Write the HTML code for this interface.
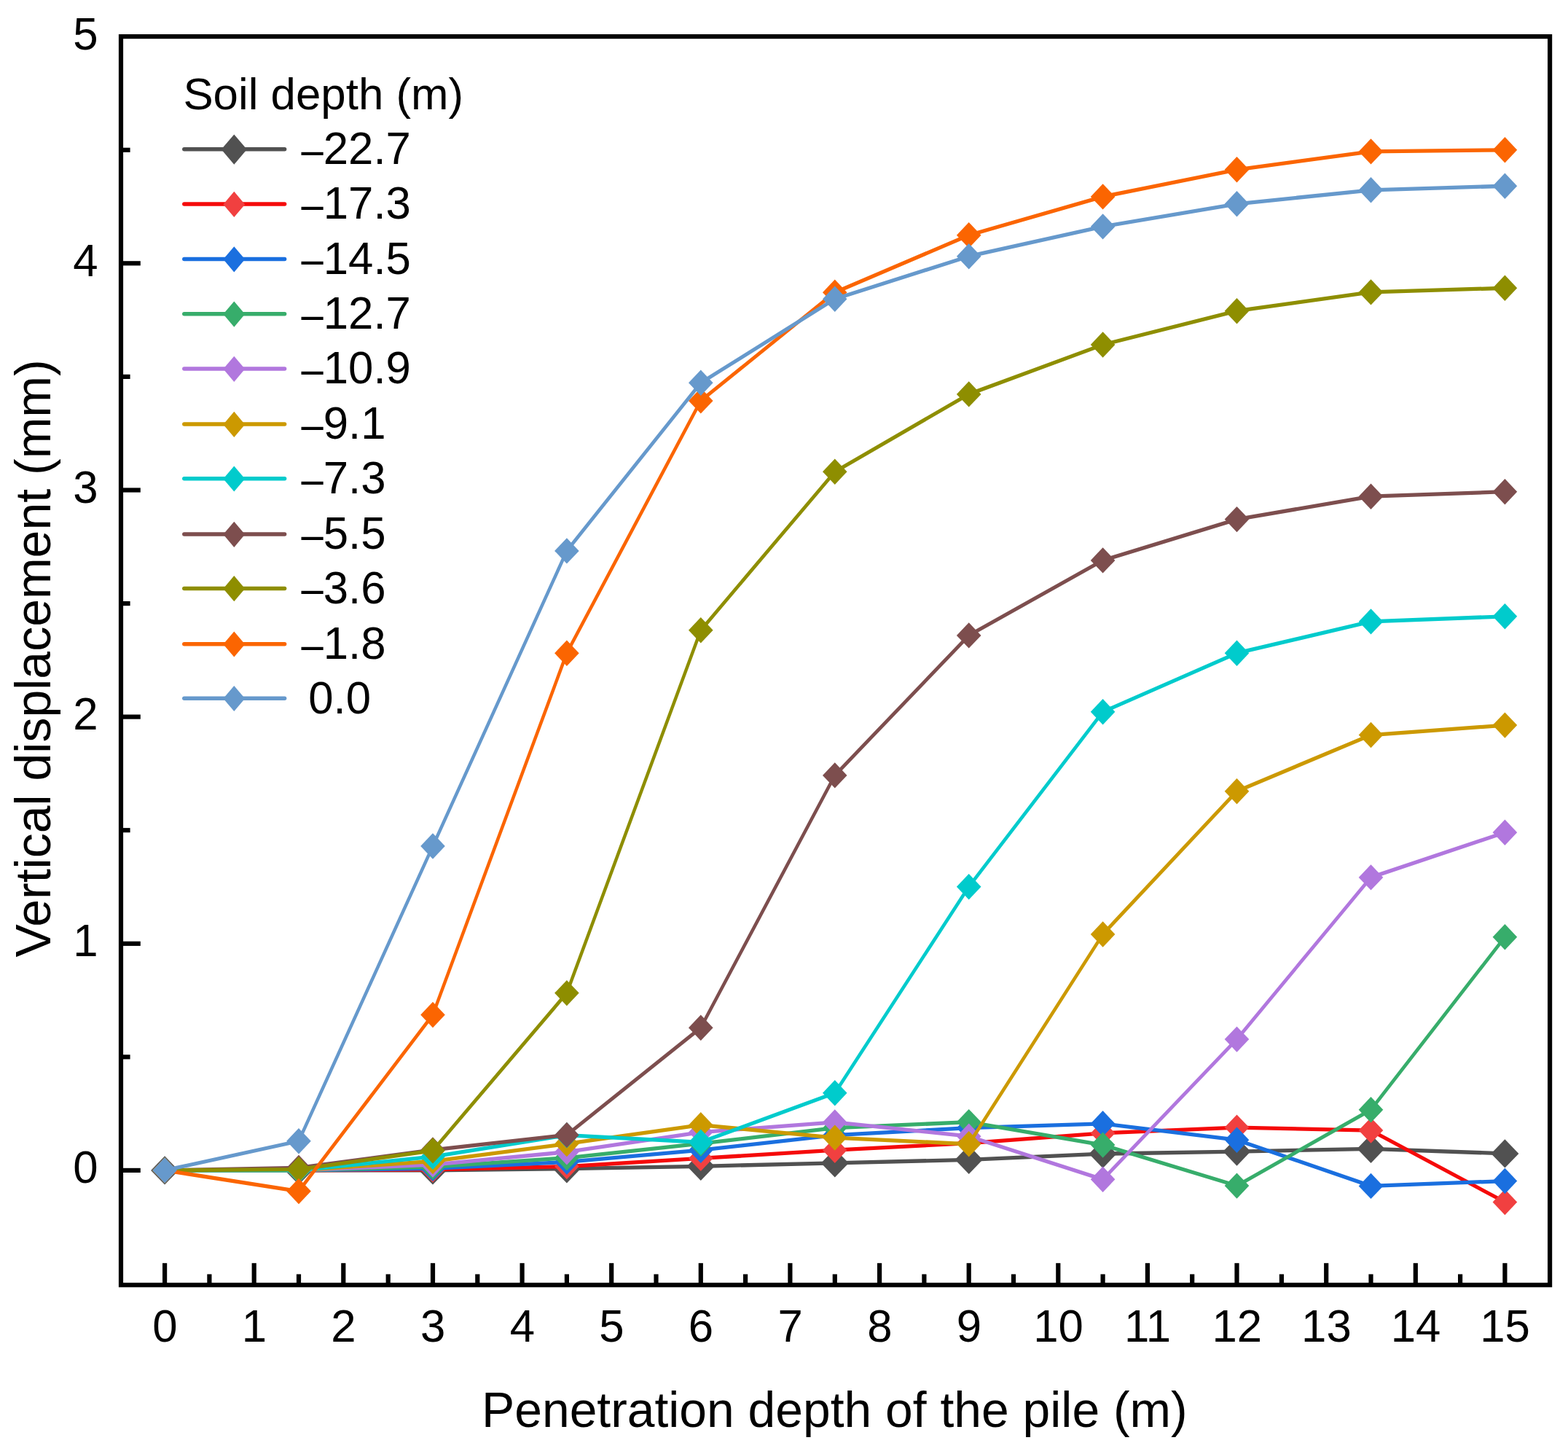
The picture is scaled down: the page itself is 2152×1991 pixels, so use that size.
<!DOCTYPE html>
<html lang="en"><head><meta charset="utf-8">
<title>Vertical displacement vs penetration depth of the pile</title>
<style>
html,body{margin:0;padding:0;background:#fff;}
body{width:2152px;height:1991px;overflow:hidden;}
svg{display:block;}
text{font-family:"Liberation Sans",Arial,Helvetica,sans-serif;fill:#000;}
.tk{font-size:61.7px;}
.lg{font-size:61.7px;}
.lt{font-size:61.8px;}
.tx{font-size:67.8px;}
.ty{font-size:68px;}
</style></head><body>
<svg width="2152" height="1991" viewBox="0 0 2152 1991" role="img" aria-label="Vertical displacement versus penetration depth of the pile for different soil depths">
<rect x="0" y="0" width="2152" height="1991" fill="#ffffff"/>
<g fill="none" stroke-linejoin="round" stroke-linecap="butt">
<g><polyline transform="scale(1,1.2)" points="226.1,1338.25 410.0,1338.25 594.0,1338.25 777.9,1336.44 961.8,1333.58 1145.8,1329.95 1329.7,1326.06 1513.6,1319.32 1697.5,1316.73 1881.5,1313.62 2065.4,1319.06" stroke="#515151" stroke-width="4.4"/>
<polygon points="226.1,1586.2 245.1,1605.9 226.1,1625.6 207.1,1605.9" fill="#515151"/>
<polygon points="410.0,1586.2 429.0,1605.9 410.0,1625.6 391.0,1605.9" fill="#515151"/>
<polygon points="594.0,1586.2 613.0,1605.9 594.0,1625.6 575.0,1605.9" fill="#515151"/>
<polygon points="777.9,1584.0 796.9,1603.7 777.9,1623.4 758.9,1603.7" fill="#515151"/>
<polygon points="961.8,1580.6 980.8,1600.3 961.8,1620.0 942.8,1600.3" fill="#515151"/>
<polygon points="1145.8,1576.2 1164.8,1595.9 1145.8,1615.6 1126.8,1595.9" fill="#515151"/>
<polygon points="1329.7,1571.6 1348.7,1591.3 1329.7,1611.0 1310.7,1591.3" fill="#515151"/>
<polygon points="1513.6,1563.5 1532.6,1583.2 1513.6,1602.9 1494.6,1583.2" fill="#515151"/>
<polygon points="1697.5,1560.4 1716.5,1580.1 1697.5,1599.8 1678.5,1580.1" fill="#515151"/>
<polygon points="1881.5,1556.6 1900.5,1576.3 1881.5,1596.0 1862.5,1576.3" fill="#515151"/>
<polygon points="2065.4,1563.2 2084.4,1582.9 2065.4,1602.6 2046.4,1582.9" fill="#515151"/>
</g>
<g><polyline transform="scale(1,1.2)" points="226.1,1338.25 410.0,1338.25 594.0,1337.47 777.9,1333.84 961.8,1324.51 1145.8,1315.17 1329.7,1307.14 1513.6,1295.73 1697.5,1289.25 1881.5,1292.62 2065.4,1374.55" stroke="#F50A0A" stroke-width="4.4"/>
<polygon points="226.1,1588.2 242.9,1605.9 226.1,1623.6 209.3,1605.9" fill="#F14040"/>
<polygon points="410.0,1588.2 426.8,1605.9 410.0,1623.6 393.2,1605.9" fill="#F14040"/>
<polygon points="594.0,1587.3 610.8,1605.0 594.0,1622.7 577.2,1605.0" fill="#F14040"/>
<polygon points="777.9,1582.9 794.7,1600.6 777.9,1618.3 761.1,1600.6" fill="#F14040"/>
<polygon points="961.8,1571.7 978.6,1589.4 961.8,1607.1 945.0,1589.4" fill="#F14040"/>
<polygon points="1145.8,1560.5 1162.5,1578.2 1145.8,1595.9 1129.0,1578.2" fill="#F14040"/>
<polygon points="1329.7,1550.9 1346.5,1568.6 1329.7,1586.3 1312.9,1568.6" fill="#F14040"/>
<polygon points="1513.6,1537.2 1530.4,1554.9 1513.6,1572.6 1496.8,1554.9" fill="#F14040"/>
<polygon points="1697.5,1529.4 1714.3,1547.1 1697.5,1564.8 1680.7,1547.1" fill="#F14040"/>
<polygon points="1881.5,1533.4 1898.3,1551.1 1881.5,1568.8 1864.7,1551.1" fill="#F14040"/>
<polygon points="2065.4,1631.8 2082.2,1649.5 2065.4,1667.2 2048.6,1649.5" fill="#F14040"/>
</g>
<g><polyline transform="scale(1,1.2)" points="226.1,1338.25 410.0,1338.25 594.0,1336.18 777.9,1328.66 961.8,1315.17 1145.8,1298.06 1329.7,1289.76 1513.6,1284.84 1697.5,1303.51 1881.5,1356.14 2065.4,1350.44" stroke="#1A6FDF" stroke-width="4.4"/>
<polygon points="226.1,1588.2 242.9,1605.9 226.1,1623.6 209.3,1605.9" fill="#1A6FDF"/>
<polygon points="410.0,1588.2 426.8,1605.9 410.0,1623.6 393.2,1605.9" fill="#1A6FDF"/>
<polygon points="594.0,1585.7 610.8,1603.4 594.0,1621.1 577.2,1603.4" fill="#1A6FDF"/>
<polygon points="777.9,1576.7 794.7,1594.4 777.9,1612.1 761.1,1594.4" fill="#1A6FDF"/>
<polygon points="961.8,1560.5 978.6,1578.2 961.8,1595.9 945.0,1578.2" fill="#1A6FDF"/>
<polygon points="1145.8,1540.0 1162.5,1557.7 1145.8,1575.4 1129.0,1557.7" fill="#1A6FDF"/>
<polygon points="1329.7,1530.0 1346.5,1547.7 1329.7,1565.4 1312.9,1547.7" fill="#1A6FDF"/>
<polygon points="1513.6,1524.1 1530.4,1541.8 1513.6,1559.5 1496.8,1541.8" fill="#1A6FDF"/>
<polygon points="1697.5,1546.5 1714.3,1564.2 1697.5,1581.9 1680.7,1564.2" fill="#1A6FDF"/>
<polygon points="1881.5,1609.7 1898.3,1627.4 1881.5,1645.1 1864.7,1627.4" fill="#1A6FDF"/>
<polygon points="2065.4,1602.8 2082.2,1620.5 2065.4,1638.2 2048.6,1620.5" fill="#1A6FDF"/>
</g>
<g><polyline transform="scale(1,1.2)" points="226.1,1338.25 410.0,1338.25 594.0,1334.36 777.9,1323.99 961.8,1307.65 1145.8,1289.76 1329.7,1283.02 1513.6,1309.21 1697.5,1355.88 1881.5,1269.02 2065.4,1071.45" stroke="#37AD6B" stroke-width="4.4"/>
<polygon points="226.1,1588.2 242.9,1605.9 226.1,1623.6 209.3,1605.9" fill="#37AD6B"/>
<polygon points="410.0,1588.2 426.8,1605.9 410.0,1623.6 393.2,1605.9" fill="#37AD6B"/>
<polygon points="594.0,1583.5 610.8,1601.2 594.0,1618.9 577.2,1601.2" fill="#37AD6B"/>
<polygon points="777.9,1571.1 794.7,1588.8 777.9,1606.5 761.1,1588.8" fill="#37AD6B"/>
<polygon points="961.8,1551.5 978.6,1569.2 961.8,1586.9 945.0,1569.2" fill="#37AD6B"/>
<polygon points="1145.8,1530.0 1162.5,1547.7 1145.8,1565.4 1129.0,1547.7" fill="#37AD6B"/>
<polygon points="1329.7,1521.9 1346.5,1539.6 1329.7,1557.3 1312.9,1539.6" fill="#37AD6B"/>
<polygon points="1513.6,1553.4 1530.4,1571.1 1513.6,1588.8 1496.8,1571.1" fill="#37AD6B"/>
<polygon points="1697.5,1609.4 1714.3,1627.1 1697.5,1644.8 1680.7,1627.1" fill="#37AD6B"/>
<polygon points="1881.5,1505.1 1898.3,1522.8 1881.5,1540.5 1864.7,1522.8" fill="#37AD6B"/>
<polygon points="2065.4,1268.0 2082.2,1285.7 2065.4,1303.4 2048.6,1285.7" fill="#37AD6B"/>
</g>
<g><polyline transform="scale(1,1.2)" points="226.1,1338.25 410.0,1338.25 594.0,1331.77 777.9,1317.25 961.8,1294.69 1145.8,1283.28 1329.7,1299.36 1513.6,1348.62 1697.5,1188.38 1881.5,1003.26 2065.4,951.92" stroke="#B177DE" stroke-width="4.4"/>
<polygon points="226.1,1588.2 242.9,1605.9 226.1,1623.6 209.3,1605.9" fill="#B177DE"/>
<polygon points="410.0,1588.2 426.8,1605.9 410.0,1623.6 393.2,1605.9" fill="#B177DE"/>
<polygon points="594.0,1580.4 610.8,1598.1 594.0,1615.8 577.2,1598.1" fill="#B177DE"/>
<polygon points="777.9,1563.0 794.7,1580.7 777.9,1598.4 761.1,1580.7" fill="#B177DE"/>
<polygon points="961.8,1535.9 978.6,1553.6 961.8,1571.3 945.0,1553.6" fill="#B177DE"/>
<polygon points="1145.8,1522.2 1162.5,1539.9 1145.8,1557.6 1129.0,1539.9" fill="#B177DE"/>
<polygon points="1329.7,1541.5 1346.5,1559.2 1329.7,1576.9 1312.9,1559.2" fill="#B177DE"/>
<polygon points="1513.6,1600.6 1530.4,1618.3 1513.6,1636.0 1496.8,1618.3" fill="#B177DE"/>
<polygon points="1697.5,1408.4 1714.3,1426.1 1697.5,1443.8 1680.7,1426.1" fill="#B177DE"/>
<polygon points="1881.5,1186.2 1898.3,1203.9 1881.5,1221.6 1864.7,1203.9" fill="#B177DE"/>
<polygon points="2065.4,1124.6 2082.2,1142.3 2065.4,1160.0 2048.6,1142.3" fill="#B177DE"/>
</g>
<g><polyline transform="scale(1,1.2)" points="226.1,1338.25 410.0,1338.25 594.0,1327.88 777.9,1307.91 961.8,1286.39 1145.8,1300.91 1329.7,1308.17 1513.6,1068.34 1697.5,904.73 1881.5,840.43 2065.4,829.28" stroke="#CC9900" stroke-width="4.4"/>
<polygon points="226.1,1588.2 242.9,1605.9 226.1,1623.6 209.3,1605.9" fill="#CC9900"/>
<polygon points="410.0,1588.2 426.8,1605.9 410.0,1623.6 393.2,1605.9" fill="#CC9900"/>
<polygon points="594.0,1575.8 610.8,1593.5 594.0,1611.2 577.2,1593.5" fill="#CC9900"/>
<polygon points="777.9,1551.8 794.7,1569.5 777.9,1587.2 761.1,1569.5" fill="#CC9900"/>
<polygon points="961.8,1526.0 978.6,1543.7 961.8,1561.4 945.0,1543.7" fill="#CC9900"/>
<polygon points="1145.8,1543.4 1162.5,1561.1 1145.8,1578.8 1129.0,1561.1" fill="#CC9900"/>
<polygon points="1329.7,1552.1 1346.5,1569.8 1329.7,1587.5 1312.9,1569.8" fill="#CC9900"/>
<polygon points="1513.6,1264.3 1530.4,1282.0 1513.6,1299.7 1496.8,1282.0" fill="#CC9900"/>
<polygon points="1697.5,1068.0 1714.3,1085.7 1697.5,1103.4 1680.7,1085.7" fill="#CC9900"/>
<polygon points="1881.5,990.8 1898.3,1008.5 1881.5,1026.2 1864.7,1008.5" fill="#CC9900"/>
<polygon points="2065.4,977.4 2082.2,995.1 2065.4,1012.8 2048.6,995.1" fill="#CC9900"/>
</g>
<g><polyline transform="scale(1,1.2)" points="226.1,1338.25 410.0,1338.25 594.0,1322.69 777.9,1298.06 961.8,1306.10 1145.8,1249.83 1329.7,1013.89 1513.6,813.98 1697.5,746.82 1881.5,710.78 2065.4,704.82" stroke="#00CBCC" stroke-width="4.4"/>
<polygon points="226.1,1588.2 242.9,1605.9 226.1,1623.6 209.3,1605.9" fill="#00CBCC"/>
<polygon points="410.0,1588.2 426.8,1605.9 410.0,1623.6 393.2,1605.9" fill="#00CBCC"/>
<polygon points="594.0,1569.5 610.8,1587.2 594.0,1604.9 577.2,1587.2" fill="#00CBCC"/>
<polygon points="777.9,1540.0 794.7,1557.7 777.9,1575.4 761.1,1557.7" fill="#00CBCC"/>
<polygon points="961.8,1549.6 978.6,1567.3 961.8,1585.0 945.0,1567.3" fill="#00CBCC"/>
<polygon points="1145.8,1482.1 1162.5,1499.8 1145.8,1517.5 1129.0,1499.8" fill="#00CBCC"/>
<polygon points="1329.7,1199.0 1346.5,1216.7 1329.7,1234.4 1312.9,1216.7" fill="#00CBCC"/>
<polygon points="1513.6,959.1 1530.4,976.8 1513.6,994.5 1496.8,976.8" fill="#00CBCC"/>
<polygon points="1697.5,878.5 1714.3,896.2 1697.5,913.9 1680.7,896.2" fill="#00CBCC"/>
<polygon points="1881.5,835.2 1898.3,852.9 1881.5,870.6 1864.7,852.9" fill="#00CBCC"/>
<polygon points="2065.4,828.1 2082.2,845.8 2065.4,863.5 2048.6,845.8" fill="#00CBCC"/>
</g>
<g><polyline transform="scale(1,1.2)" points="226.1,1338.25 410.0,1335.40 594.0,1314.91 777.9,1297.80 961.8,1175.16 1145.8,886.58 1329.7,726.60 1513.6,640.78 1697.5,593.85 1881.5,567.66 2065.4,562.21" stroke="#7D4E4E" stroke-width="4.4"/>
<polygon points="226.1,1588.2 242.9,1605.9 226.1,1623.6 209.3,1605.9" fill="#7D4E4E"/>
<polygon points="410.0,1584.8 426.8,1602.5 410.0,1620.2 393.2,1602.5" fill="#7D4E4E"/>
<polygon points="594.0,1560.2 610.8,1577.9 594.0,1595.6 577.2,1577.9" fill="#7D4E4E"/>
<polygon points="777.9,1539.7 794.7,1557.4 777.9,1575.1 761.1,1557.4" fill="#7D4E4E"/>
<polygon points="961.8,1392.5 978.6,1410.2 961.8,1427.9 945.0,1410.2" fill="#7D4E4E"/>
<polygon points="1145.8,1046.2 1162.5,1063.9 1145.8,1081.6 1129.0,1063.9" fill="#7D4E4E"/>
<polygon points="1329.7,854.2 1346.5,871.9 1329.7,889.6 1312.9,871.9" fill="#7D4E4E"/>
<polygon points="1513.6,751.2 1530.4,768.9 1513.6,786.6 1496.8,768.9" fill="#7D4E4E"/>
<polygon points="1697.5,694.9 1714.3,712.6 1697.5,730.3 1680.7,712.6" fill="#7D4E4E"/>
<polygon points="1881.5,663.5 1898.3,681.2 1881.5,698.9 1864.7,681.2" fill="#7D4E4E"/>
<polygon points="2065.4,657.0 2082.2,674.7 2065.4,692.4 2048.6,674.7" fill="#7D4E4E"/>
</g>
<g><polyline transform="scale(1,1.2)" points="226.1,1338.25 410.0,1337.21 594.0,1315.69 777.9,1135.49 961.8,720.64 1145.8,539.40 1329.7,450.72 1513.6,394.20 1697.5,355.57 1881.5,334.05 2065.4,329.38" stroke="#8E8E00" stroke-width="4.4"/>
<polygon points="226.1,1588.2 242.9,1605.9 226.1,1623.6 209.3,1605.9" fill="#8E8E00"/>
<polygon points="410.0,1587.0 426.8,1604.7 410.0,1622.4 393.2,1604.7" fill="#8E8E00"/>
<polygon points="594.0,1561.1 610.8,1578.8 594.0,1596.5 577.2,1578.8" fill="#8E8E00"/>
<polygon points="777.9,1344.9 794.7,1362.6 777.9,1380.3 761.1,1362.6" fill="#8E8E00"/>
<polygon points="961.8,847.1 978.6,864.8 961.8,882.5 945.0,864.8" fill="#8E8E00"/>
<polygon points="1145.8,629.6 1162.5,647.3 1145.8,665.0 1129.0,647.3" fill="#8E8E00"/>
<polygon points="1329.7,523.2 1346.5,540.9 1329.7,558.6 1312.9,540.9" fill="#8E8E00"/>
<polygon points="1513.6,455.3 1530.4,473.0 1513.6,490.7 1496.8,473.0" fill="#8E8E00"/>
<polygon points="1697.5,409.0 1714.3,426.7 1697.5,444.4 1680.7,426.7" fill="#8E8E00"/>
<polygon points="1881.5,383.2 1898.3,400.9 1881.5,418.6 1864.7,400.9" fill="#8E8E00"/>
<polygon points="2065.4,377.6 2082.2,395.3 2065.4,413.0 2048.6,395.3" fill="#8E8E00"/>
</g>
<g><polyline transform="scale(1,1.2)" points="226.1,1338.25 410.0,1362.10 594.0,1160.38 777.9,746.82 961.8,458.24 1145.8,334.30 1329.7,268.97 1513.6,224.89 1697.5,194.03 1881.5,173.29 2065.4,171.48" stroke="#FB6501" stroke-width="4.4"/>
<polygon points="226.1,1588.2 242.9,1605.9 226.1,1623.6 209.3,1605.9" fill="#FB6501"/>
<polygon points="410.0,1616.8 426.8,1634.5 410.0,1652.2 393.2,1634.5" fill="#FB6501"/>
<polygon points="594.0,1374.8 610.8,1392.5 594.0,1410.2 577.2,1392.5" fill="#FB6501"/>
<polygon points="777.9,878.5 794.7,896.2 777.9,913.9 761.1,896.2" fill="#FB6501"/>
<polygon points="961.8,532.2 978.6,549.9 961.8,567.6 945.0,549.9" fill="#FB6501"/>
<polygon points="1145.8,383.5 1162.5,401.2 1145.8,418.9 1129.0,401.2" fill="#FB6501"/>
<polygon points="1329.7,305.1 1346.5,322.8 1329.7,340.5 1312.9,322.8" fill="#FB6501"/>
<polygon points="1513.6,252.2 1530.4,269.9 1513.6,287.6 1496.8,269.9" fill="#FB6501"/>
<polygon points="1697.5,215.1 1714.3,232.8 1697.5,250.5 1680.7,232.8" fill="#FB6501"/>
<polygon points="1881.5,190.2 1898.3,207.9 1881.5,225.6 1864.7,207.9" fill="#FB6501"/>
<polygon points="2065.4,188.1 2082.2,205.8 2065.4,223.5 2048.6,205.8" fill="#FB6501"/>
</g>
<g><polyline transform="scale(1,1.2)" points="226.1,1338.25 410.0,1304.80 594.0,967.47 777.9,629.89 961.8,437.76 1145.8,341.82 1329.7,293.08 1513.6,259.11 1697.5,233.18 1881.5,217.37 2065.4,212.70" stroke="#6699CC" stroke-width="4.4"/>
<polygon points="226.1,1588.2 242.9,1605.9 226.1,1623.6 209.3,1605.9" fill="#6699CC"/>
<polygon points="410.0,1548.1 426.8,1565.8 410.0,1583.5 393.2,1565.8" fill="#6699CC"/>
<polygon points="594.0,1143.3 610.8,1161.0 594.0,1178.7 577.2,1161.0" fill="#6699CC"/>
<polygon points="777.9,738.2 794.7,755.9 777.9,773.6 761.1,755.9" fill="#6699CC"/>
<polygon points="961.8,507.6 978.6,525.3 961.8,543.0 945.0,525.3" fill="#6699CC"/>
<polygon points="1145.8,392.5 1162.5,410.2 1145.8,427.9 1129.0,410.2" fill="#6699CC"/>
<polygon points="1329.7,334.0 1346.5,351.7 1329.7,369.4 1312.9,351.7" fill="#6699CC"/>
<polygon points="1513.6,293.2 1530.4,310.9 1513.6,328.6 1496.8,310.9" fill="#6699CC"/>
<polygon points="1697.5,262.1 1714.3,279.8 1697.5,297.5 1680.7,279.8" fill="#6699CC"/>
<polygon points="1881.5,243.1 1898.3,260.8 1881.5,278.5 1864.7,260.8" fill="#6699CC"/>
<polygon points="2065.4,237.5 2082.2,255.2 2065.4,272.9 2048.6,255.2" fill="#6699CC"/>
</g>
</g>
<rect x="166.0" y="50.1" width="1961.1" height="1713.1" fill="none" stroke="#000" stroke-width="6.2"/>
<g stroke="#000" stroke-width="6.2">
<line x1="226.1" y1="1763.2" x2="226.1" y2="1733.2"/>
<line x1="287.4" y1="1763.2" x2="287.4" y2="1748.4"/>
<line x1="348.7" y1="1763.2" x2="348.7" y2="1733.2"/>
<line x1="410.0" y1="1763.2" x2="410.0" y2="1748.4"/>
<line x1="471.3" y1="1763.2" x2="471.3" y2="1733.2"/>
<line x1="532.7" y1="1763.2" x2="532.7" y2="1748.4"/>
<line x1="594.0" y1="1763.2" x2="594.0" y2="1733.2"/>
<line x1="655.3" y1="1763.2" x2="655.3" y2="1748.4"/>
<line x1="716.6" y1="1763.2" x2="716.6" y2="1733.2"/>
<line x1="777.9" y1="1763.2" x2="777.9" y2="1748.4"/>
<line x1="839.2" y1="1763.2" x2="839.2" y2="1733.2"/>
<line x1="900.5" y1="1763.2" x2="900.5" y2="1748.4"/>
<line x1="961.8" y1="1763.2" x2="961.8" y2="1733.2"/>
<line x1="1023.1" y1="1763.2" x2="1023.1" y2="1748.4"/>
<line x1="1084.4" y1="1763.2" x2="1084.4" y2="1733.2"/>
<line x1="1145.8" y1="1763.2" x2="1145.8" y2="1748.4"/>
<line x1="1207.1" y1="1763.2" x2="1207.1" y2="1733.2"/>
<line x1="1268.4" y1="1763.2" x2="1268.4" y2="1748.4"/>
<line x1="1329.7" y1="1763.2" x2="1329.7" y2="1733.2"/>
<line x1="1391.0" y1="1763.2" x2="1391.0" y2="1748.4"/>
<line x1="1452.3" y1="1763.2" x2="1452.3" y2="1733.2"/>
<line x1="1513.6" y1="1763.2" x2="1513.6" y2="1748.4"/>
<line x1="1574.9" y1="1763.2" x2="1574.9" y2="1733.2"/>
<line x1="1636.2" y1="1763.2" x2="1636.2" y2="1748.4"/>
<line x1="1697.5" y1="1763.2" x2="1697.5" y2="1733.2"/>
<line x1="1758.9" y1="1763.2" x2="1758.9" y2="1748.4"/>
<line x1="1820.2" y1="1763.2" x2="1820.2" y2="1733.2"/>
<line x1="1881.5" y1="1763.2" x2="1881.5" y2="1748.4"/>
<line x1="1942.8" y1="1763.2" x2="1942.8" y2="1733.2"/>
<line x1="2004.1" y1="1763.2" x2="2004.1" y2="1748.4"/>
<line x1="2065.4" y1="1763.2" x2="2065.4" y2="1733.2"/>
<line x1="166.0" y1="1605.9" x2="192.8" y2="1605.9"/>
<line x1="166.0" y1="1450.3" x2="178.6" y2="1450.3"/>
<line x1="166.0" y1="1294.8" x2="192.8" y2="1294.8"/>
<line x1="166.0" y1="1139.2" x2="178.6" y2="1139.2"/>
<line x1="166.0" y1="983.6" x2="192.8" y2="983.6"/>
<line x1="166.0" y1="828.1" x2="178.6" y2="828.1"/>
<line x1="166.0" y1="672.5" x2="192.8" y2="672.5"/>
<line x1="166.0" y1="516.9" x2="178.6" y2="516.9"/>
<line x1="166.0" y1="361.3" x2="192.8" y2="361.3"/>
<line x1="166.0" y1="205.8" x2="178.6" y2="205.8"/>
</g>
<g class="tk" text-anchor="middle">
<text transform="translate(226.3,1841.3) scale(1,1.03)">0</text>
<text transform="translate(348.9,1841.3) scale(1,1.03)">1</text>
<text transform="translate(471.5,1841.3) scale(1,1.03)">2</text>
<text transform="translate(594.2,1841.3) scale(1,1.03)">3</text>
<text transform="translate(716.8,1841.3) scale(1,1.03)">4</text>
<text transform="translate(839.4,1841.3) scale(1,1.03)">5</text>
<text transform="translate(962.0,1841.3) scale(1,1.03)">6</text>
<text transform="translate(1084.6,1841.3) scale(1,1.03)">7</text>
<text transform="translate(1207.3,1841.3) scale(1,1.03)">8</text>
<text transform="translate(1329.9,1841.3) scale(1,1.03)">9</text>
<text transform="translate(1452.5,1841.3) scale(1,1.03)">10</text>
<text transform="translate(1575.1,1841.3) scale(1,1.03)">11</text>
<text transform="translate(1697.7,1841.3) scale(1,1.03)">12</text>
<text transform="translate(1820.4,1841.3) scale(1,1.03)">13</text>
<text transform="translate(1943.0,1841.3) scale(1,1.03)">14</text>
<text transform="translate(2065.6,1841.3) scale(1,1.03)">15</text>
</g>
<g class="tk" text-anchor="end">
<text transform="translate(134.6,1623.2) scale(1,1.03)">0</text>
<text transform="translate(134.6,1312.1) scale(1,1.03)">1</text>
<text transform="translate(134.6,1000.9) scale(1,1.03)">2</text>
<text transform="translate(134.6,689.8) scale(1,1.03)">3</text>
<text transform="translate(134.6,378.6) scale(1,1.03)">4</text>
<text transform="translate(134.6,67.5) scale(1,1.03)">5</text>
</g>
<text class="tx" x="661.0" y="1958">Penetration depth of the pile (m)</text>
<text class="ty" transform="translate(68.7,1313.4) rotate(-90)">Vertical displacement (mm)</text>
<text class="lt" x="251.4" y="149.5">Soil depth (m)</text>
<line x1="252.8" y1="204.8" x2="390.6" y2="204.8" stroke="#515151" stroke-width="5.5" stroke-linecap="round"/>
<polygon points="321.3,184.5 338.9,205.1 321.3,225.7 303.7,205.1" fill="#515151"/>
<text class="lg" transform="translate(413.6,225.1) scale(1,1.03)"><tspan dy="1.5" textLength="30.2" lengthAdjust="spacingAndGlyphs">–</tspan><tspan dy="-1.5">22.7</tspan></text>
<line x1="252.8" y1="280.1" x2="390.6" y2="280.1" stroke="#F50A0A" stroke-width="5.5" stroke-linecap="round"/>
<polygon points="321.3,262.8 336.2,280.4 321.3,298.0 306.4,280.4" fill="#F14040"/>
<text class="lg" transform="translate(413.6,300.4) scale(1,1.03)"><tspan dy="1.5" textLength="30.2" lengthAdjust="spacingAndGlyphs">–</tspan><tspan dy="-1.5">17.3</tspan></text>
<line x1="252.8" y1="355.5" x2="390.6" y2="355.5" stroke="#1A6FDF" stroke-width="5.5" stroke-linecap="round"/>
<polygon points="321.3,338.2 336.2,355.8 321.3,373.4 306.4,355.8" fill="#1A6FDF"/>
<text class="lg" transform="translate(413.6,375.8) scale(1,1.03)"><tspan dy="1.5" textLength="30.2" lengthAdjust="spacingAndGlyphs">–</tspan><tspan dy="-1.5">14.5</tspan></text>
<line x1="252.8" y1="430.8" x2="390.6" y2="430.8" stroke="#37AD6B" stroke-width="5.5" stroke-linecap="round"/>
<polygon points="321.3,413.5 336.2,431.1 321.3,448.7 306.4,431.1" fill="#37AD6B"/>
<text class="lg" transform="translate(413.6,451.1) scale(1,1.03)"><tspan dy="1.5" textLength="30.2" lengthAdjust="spacingAndGlyphs">–</tspan><tspan dy="-1.5">12.7</tspan></text>
<line x1="252.8" y1="506.0" x2="390.6" y2="506.0" stroke="#B177DE" stroke-width="5.5" stroke-linecap="round"/>
<polygon points="321.3,488.7 336.2,506.3 321.3,523.9 306.4,506.3" fill="#B177DE"/>
<text class="lg" transform="translate(413.6,526.3) scale(1,1.03)"><tspan dy="1.5" textLength="30.2" lengthAdjust="spacingAndGlyphs">–</tspan><tspan dy="-1.5">10.9</tspan></text>
<line x1="252.8" y1="582.1" x2="390.6" y2="582.1" stroke="#CC9900" stroke-width="5.5" stroke-linecap="round"/>
<polygon points="321.3,564.8 336.2,582.4 321.3,600.0 306.4,582.4" fill="#CC9900"/>
<text class="lg" transform="translate(413.6,602.4) scale(1,1.03)"><tspan dy="1.5" textLength="30.2" lengthAdjust="spacingAndGlyphs">–</tspan><tspan dy="-1.5">9.1</tspan></text>
<line x1="252.8" y1="656.7" x2="390.6" y2="656.7" stroke="#00CBCC" stroke-width="5.5" stroke-linecap="round"/>
<polygon points="321.3,639.4 336.2,657.0 321.3,674.6 306.4,657.0" fill="#00CBCC"/>
<text class="lg" transform="translate(413.6,677.0) scale(1,1.03)"><tspan dy="1.5" textLength="30.2" lengthAdjust="spacingAndGlyphs">–</tspan><tspan dy="-1.5">7.3</tspan></text>
<line x1="252.8" y1="733.0" x2="390.6" y2="733.0" stroke="#7D4E4E" stroke-width="5.5" stroke-linecap="round"/>
<polygon points="321.3,715.7 336.2,733.3 321.3,750.9 306.4,733.3" fill="#7D4E4E"/>
<text class="lg" transform="translate(413.6,753.3) scale(1,1.03)"><tspan dy="1.5" textLength="30.2" lengthAdjust="spacingAndGlyphs">–</tspan><tspan dy="-1.5">5.5</tspan></text>
<line x1="252.8" y1="807.4" x2="390.6" y2="807.4" stroke="#8E8E00" stroke-width="5.5" stroke-linecap="round"/>
<polygon points="321.3,790.1 336.2,807.7 321.3,825.3 306.4,807.7" fill="#8E8E00"/>
<text class="lg" transform="translate(413.6,827.7) scale(1,1.03)"><tspan dy="1.5" textLength="30.2" lengthAdjust="spacingAndGlyphs">–</tspan><tspan dy="-1.5">3.6</tspan></text>
<line x1="252.8" y1="883.7" x2="390.6" y2="883.7" stroke="#FB6501" stroke-width="5.5" stroke-linecap="round"/>
<polygon points="321.3,866.4 336.2,884.0 321.3,901.6 306.4,884.0" fill="#FB6501"/>
<text class="lg" transform="translate(413.6,904.0) scale(1,1.03)"><tspan dy="1.5" textLength="30.2" lengthAdjust="spacingAndGlyphs">–</tspan><tspan dy="-1.5">1.8</tspan></text>
<line x1="252.8" y1="958.2" x2="390.6" y2="958.2" stroke="#6699CC" stroke-width="5.5" stroke-linecap="round"/>
<polygon points="321.3,940.9 336.2,958.5 321.3,976.1 306.4,958.5" fill="#6699CC"/>
<text class="lg" transform="translate(423.3,978.5) scale(1,1.03)">0.0</text>
</svg>
</body></html>
